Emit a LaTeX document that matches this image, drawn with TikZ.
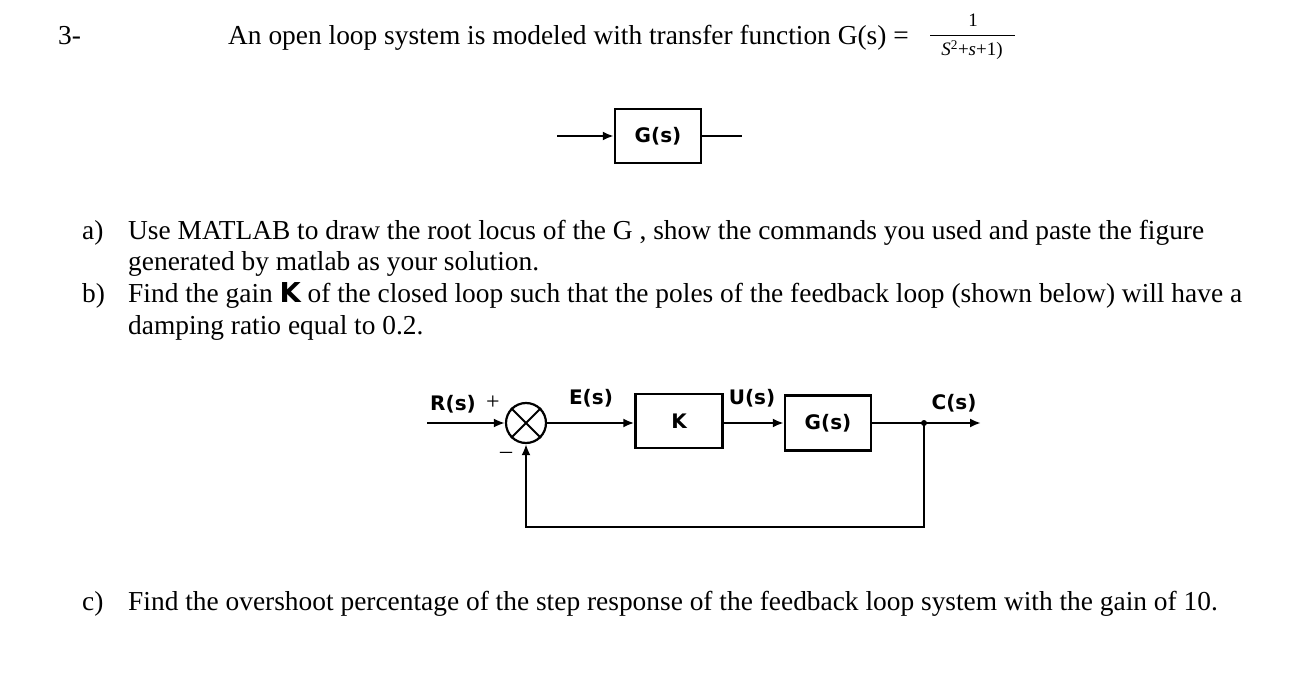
\documentclass[tikz,border=0pt]{standalone}
\usepackage{fontspec}
\usetikzlibrary{arrows.meta}
\setmainfont{Liberation Serif}
\newfontfamily\blk{DejaVu Sans}
\begin{document}
\begin{tikzpicture}[x=1pt,y=-1pt,
  txt/.style={anchor=base west,inner sep=0pt,font=\fontsize{27.4}{30}\selectfont},
  lbl/.style={inner sep=0pt,font=\blk\bfseries\fontsize{20}{22}\selectfont},
  box/.style={draw,line width=2.4pt,inner sep=0pt},
  wire/.style={line width=2.4pt},
  arr/.style={wire,-{Latex[length=11pt,width=9pt]}}]
\useasboundingbox (0,0) rectangle (1294,682);
\node[txt] (n3) at (58,45) {3-};
\node[txt] (l0) at (228,45) {An open loop system is modeled with transfer function G(s) =};
\node[inner sep=0pt,font=\fontsize{19}{20}\selectfont] (num) at (973,20) {1};
\node[inner sep=0pt,font=\fontsize{19}{20}\selectfont] (den) at (972,50) {\textit{S}\textsuperscript{2}+\textit{s}+1)};
\draw[line width=1pt] (930,36) -- (1015,36);
% top block
\node[box,minimum width=86pt,minimum height=54pt,lbl] (g0) at (658,136) {G(s)};
\coordinate (i0) at (557,136);
\coordinate (o0) at (742,136);
\draw[arr] (i0) -- (g0.west);
\draw[wire] (g0.east) -- (o0);
% questions
\node[txt] (a) at (82,240) {a)};
\node[txt] (a1) at (128,240) {Use MATLAB to draw the root locus of the G , show the commands you used and paste the figure};
\node[txt] (a2) at (128,270) {generated by matlab as your solution.};
\node[txt] (b) at (82,302) {b)};
\node[txt] (b1) at (128,302) {Find the gain {\blk\bfseries K} of the closed loop such that the poles of the feedback loop (shown below) will have a};
\node[txt] (b2) at (128,334) {damping ratio equal to 0.2.};
\node[txt] (c) at (82,610) {c)};
\node[txt] (c1) at (128,610) {Find the overshoot percentage of the step response of the feedback loop system with the gain of 10.};
% block diagram
\node[draw,circle,line width=2.2pt,minimum size=40pt,inner sep=0pt] (sum) at (526,423) {};
\draw[line width=2pt] (sum.north west) -- (sum.south east) (sum.north east) -- (sum.south west);
\node[box,minimum width=87pt,minimum height=54pt,lbl] (k) at (679,421) {K};
\node[box,minimum width=86pt,minimum height=55pt,lbl] (g) at (828,423) {G(s)};
\coordinate (r) at (427,423);
\coordinate (br) at (924,423);
\coordinate (out) at (981,423);
\coordinate (b1c) at (924,527);
\coordinate (b2c) at (526,527);
\draw[arr] (r) -- (sum.west);
\draw[arr] (sum.east) -- (sum.east -| k.west);
\draw[arr] (k.east |- g.west) -- (g.west);
\draw[arr] (g.east) -- (out);
\draw[arr] (br) -- (b1c) -- (b2c) -- (sum.south);
\fill (br) circle (3pt);
\node[lbl] (rs) at (453,404) {R(s)};
\node[inner sep=0pt,font=\fontsize{24}{26}\selectfont] (pl) at (493,403) {+};
\node[inner sep=0pt,font=\fontsize{24}{26}\selectfont] (mi) at (506,455) {\textendash};
\node[lbl] (es) at (591,398) {E(s)};
\node[lbl] (us) at (752,398) {U(s)};
\node[lbl] (cs) at (954,403) {C(s)};
\end{tikzpicture}
\end{document}
